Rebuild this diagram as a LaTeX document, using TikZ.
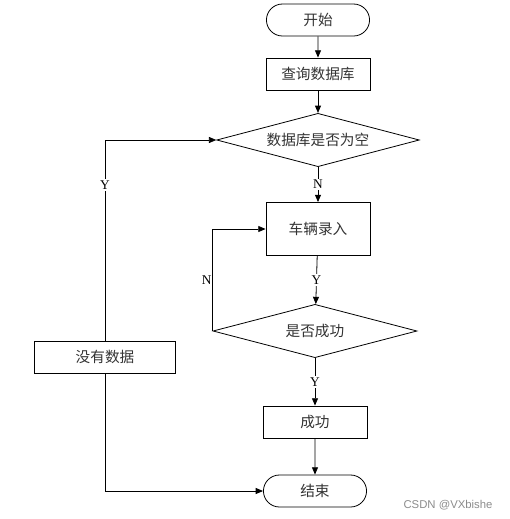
\documentclass[tikz,border=0pt]{standalone}
\usepackage{fontspec}
\setmainfont{Liberation Serif}
\newfontfamily\cjk{Noto Sans CJK SC}
\newfontfamily\wmfont{Liberation Sans}
\usetikzlibrary{shapes.geometric, shapes.misc, arrows, arrows.meta, positioning}
\tikzstyle{recNode} = [rectangle, minimum width=78pt, minimum height=24pt, text centered, draw=black, line width=0.6pt, font=\cjk\fontsize{11}{13}\selectfont, text=black!80]
\tikzstyle{termNode} = [recNode, rounded rectangle, minimum width=84pt]
\tikzstyle{decNode} = [recNode, diamond, aspect=3.8, inner sep=1pt, minimum width=152pt, minimum height=40pt]
\tikzstyle{eNode} = [fill=white, inner sep=1pt, font=\fontsize{10}{12}\selectfont]
\tikzstyle{arrow} = [line width=0.6pt,->,>={Triangle[length=5.5pt,width=4.5pt]},draw=black]

\begin{document}
\begin{tikzpicture}[x=0.75pt, y=0.75pt]
        \useasboundingbox (0,0) rectangle (510,-519);
        \node (start) [termNode] at (318,-20) {开始};
        \node (query) [recNode, below of=start, node distance=40.5pt] {查询数据库};
        \node (isEmpty) [decNode, below of=query, node distance=49.5pt] {数据库是否为空};
        \node (carIn) [recNode, below of=isEmpty, node distance=66.75pt, minimum height=39.75pt] {车辆录入};
        \node (isOk) [decNode, below of=carIn, node distance=76.5pt, xshift=-2.25pt, minimum width=153pt] {是否成功};
        \node (ok) [recNode, below of=isOk, node distance=68.25pt] {成功};
        \node (stop) [termNode, below of=ok, node distance=51.75pt] {结束};
        \node (noData) [recNode, left of=isOk, node distance=157.5pt, yshift=-19.5pt, minimum width=105.75pt] {没有数据};
        \node (wm) [font=\wmfont\fontsize{8.5}{10}\selectfont, text=black!45] at (448,-505) {CSDN @VXbishe};

        \draw [arrow] (start) -- (query);
        \draw [arrow] (query) -- (isEmpty);
        \draw [arrow] (isEmpty) -- node[eNode] {N} (carIn);
        \draw [arrow] (carIn) -- node[eNode] {Y} (isOk);
        \draw [arrow] (isOk) -- node[eNode] {Y} (ok);
        \draw [arrow] (ok) -- (stop);
        \draw [arrow] (isOk.west) |- node[eNode, pos=0.25, left, fill=none, inner sep=0.5pt] {N} (carIn.west);
        \draw [arrow] (noData.north) |- node[eNode, pos=0.388] {Y} (isEmpty.west);
        \draw [arrow] (noData.south) |- (stop.west);
    \end{tikzpicture}
\end{document}
